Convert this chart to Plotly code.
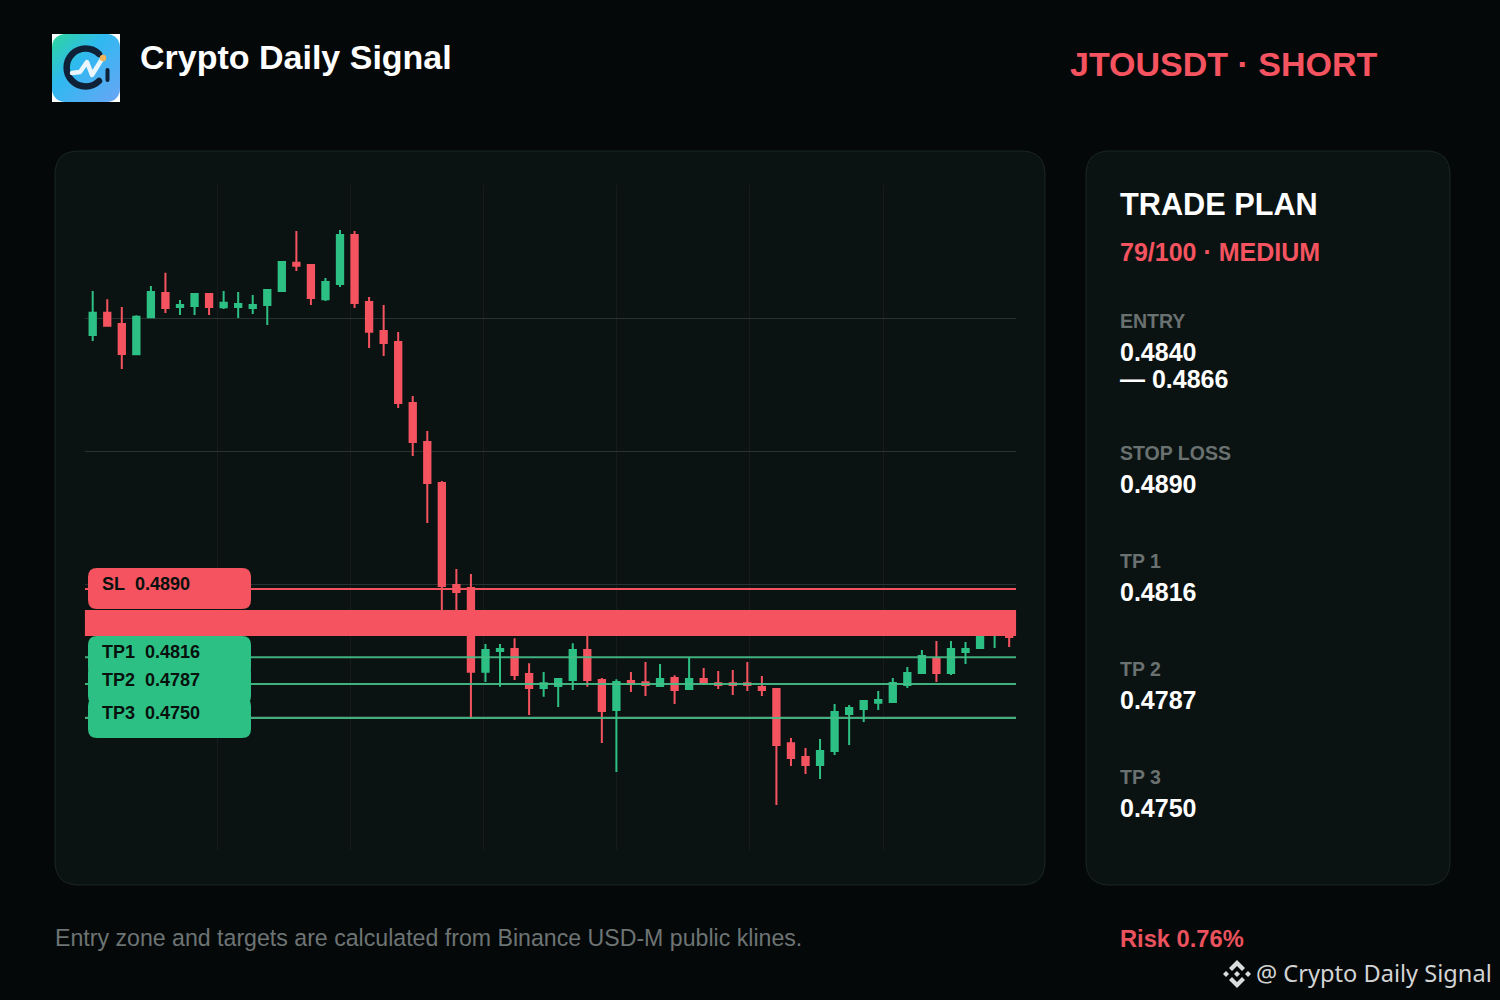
import base64
import plotly.graph_objects as go

W = 1500
H = 1000

# candles (oldest first)
opens = [0.51657, 0.51899, 0.51776, 0.51447, 0.51849, 0.52112, 0.51961, 0.51971, 0.52102, 0.51957,
         0.51961, 0.51950, 0.51982, 0.52134, 0.52441, 0.52416, 0.52044, 0.52210, 0.52742, 0.52015,
         0.51700, 0.51581, 0.50919, 0.50495, 0.50050, 0.48943, 0.48911, 0.48002, 0.48227, 0.48249,
         0.47977, 0.47826, 0.47847, 0.47912, 0.48238, 0.47912, 0.47587, 0.47902, 0.47887, 0.47847,
         0.47934, 0.47815, 0.47923, 0.47877, 0.47877, 0.47877, 0.47836, 0.47815, 0.47225, 0.47077,
         0.46990, 0.47142, 0.47543, 0.47598, 0.47666, 0.47674, 0.47858, 0.47988, 0.48151, 0.47988,
         0.48216, 0.48260, 0.48422, 0.48564]
highs = [0.52134, 0.52044, 0.51961, 0.51870, 0.52188, 0.52333, 0.52037, 0.52112, 0.52102, 0.52134,
         0.52123, 0.52091, 0.52156, 0.52449, 0.52785, 0.52416, 0.52275, 0.52796, 0.52785, 0.52069,
         0.51982, 0.51689, 0.50995, 0.50615, 0.50072, 0.49117, 0.49063, 0.48303, 0.48303, 0.48365,
         0.48094, 0.47999, 0.47934, 0.48311, 0.48412, 0.47934, 0.47920, 0.47999, 0.48108, 0.48086,
         0.47963, 0.48159, 0.48043, 0.48010, 0.48021, 0.48108, 0.47956, 0.47826, 0.47283, 0.47174,
         0.47272, 0.47652, 0.47641, 0.47684, 0.47793, 0.47934, 0.48053, 0.48238, 0.48336, 0.48336,
         0.48325, 0.48564, 0.48618, 0.48650]
lows = [0.51592, 0.51754, 0.51288, 0.51440, 0.51841, 0.51895, 0.51874, 0.51874, 0.51874, 0.51939,
        0.51841, 0.51885, 0.51765, 0.52134, 0.52351, 0.51982, 0.52026, 0.52178, 0.51950, 0.51516,
        0.51429, 0.50864, 0.50343, 0.49616, 0.48650, 0.48650, 0.47489, 0.47891, 0.47840, 0.47912,
        0.47533, 0.47731, 0.47619, 0.47804, 0.47840, 0.47229, 0.46914, 0.47782, 0.47739, 0.47840,
        0.47652, 0.47815, 0.47858, 0.47815, 0.47750, 0.47793, 0.47739, 0.46556, 0.46979, 0.46892,
        0.46838, 0.47098, 0.47207, 0.47457, 0.47587, 0.47674, 0.47826, 0.47988, 0.47891, 0.47967,
        0.48086, 0.48260, 0.48260, 0.48271]
closes = [0.51899, 0.51758, 0.51450, 0.51855, 0.52123, 0.51950, 0.51982, 0.52102, 0.51961, 0.52007,
          0.51993, 0.51982, 0.52145, 0.52449, 0.52409, 0.52058, 0.52232, 0.52742, 0.52004, 0.51693,
          0.51570, 0.50919, 0.50495, 0.50050, 0.48933, 0.48867, 0.48002, 0.48238, 0.48249, 0.47967,
          0.47826, 0.47877, 0.47923, 0.48238, 0.47912, 0.47576, 0.47891, 0.47869, 0.47858, 0.47923,
          0.47804, 0.47923, 0.47880, 0.47858, 0.47858, 0.47858, 0.47804, 0.47207, 0.47066, 0.46990,
          0.47142, 0.47565, 0.47608, 0.47684, 0.47695, 0.47880, 0.47988, 0.48173, 0.47988, 0.48249,
          0.48249, 0.48477, 0.48509, 0.48379]
candle_index = list(range(len(opens)))

# trade levels
entry_low = 0.4840
entry_high = 0.4866
stop_loss = 0.4890
take_profits = [0.4816, 0.4787, 0.4750]

# grid positions
grid_prices = [0.51841, 0.50390, 0.48954, 0.47511]
grid_candles = [8.56, 17.69, 26.85, 36.02, 45.14, 54.33]

# right hand panel
plan_labels = ["ENTRY", "STOP LOSS", "TP 1", "TP 2", "TP 3"]
plan_values = ["0.4840", "0.4890", "0.4816", "0.4787", "0.4750"]
plan_label_y = [321, 452.5, 561, 669, 777]
plan_value_y = [352, 484, 592, 700, 808]

# colours
BG = "#050809"
PANEL = "#0b1312"
BORDER = "#1b2625"
RED = "#f4535f"
GREEN = "#2dc084"
GREY = "#6a7171"
DARK = "#07110d"
FONT = "Liberation Sans"


def px(x):
    return x / W


def py(y):
    return 1 - y / H


def rounded_rect(x0, y0, x1, y1, r):
    # path in paper coordinates, pixel numbers going in
    return (
        f"M {px(x0 + r)} {py(y0)} L {px(x1 - r)} {py(y0)} Q {px(x1)} {py(y0)} {px(x1)} {py(y0 + r)} "
        f"L {px(x1)} {py(y1 - r)} Q {px(x1)} {py(y1)} {px(x1 - r)} {py(y1)} "
        f"L {px(x0 + r)} {py(y1)} Q {px(x0)} {py(y1)} {px(x0)} {py(y1 - r)} "
        f"L {px(x0)} {py(y0 + r)} Q {px(x0)} {py(y0)} {px(x0 + r)} {py(y0)} Z"
    )


def svg_uri(svg):
    return "data:image/svg+xml;base64," + base64.b64encode(svg.encode()).decode()


fig = go.Figure(
    go.Candlestick(
        x=candle_index,
        open=opens,
        high=highs,
        low=lows,
        close=closes,
        increasing=dict(line=dict(color=GREEN, width=2), fillcolor=GREEN),
        decreasing=dict(line=dict(color=RED, width=2), fillcolor=RED),
        whiskerwidth=0,
        showlegend=False,
    )
)

fig.update_layout(
    width=W,
    height=H,
    margin=dict(l=0, r=0, t=0, b=0),
    paper_bgcolor=BG,
    plot_bgcolor="rgba(0,0,0,0)",
    boxgap=0.38,
    showlegend=False,
    font=dict(family=FONT),
)
fig.update_xaxes(
    domain=[px(85), px(1016)],
    range=[-0.53, 63.47],
    rangeslider=dict(visible=False),
    tickvals=grid_candles,
    showticklabels=False,
    ticks="",
    gridcolor="#161c1d",
    gridwidth=1,
    zeroline=False,
)
fig.update_yaxes(
    domain=[py(850), py(185)],
    range=[0.46067, 0.53285],
    tickvals=grid_prices,
    showticklabels=False,
    ticks="",
    gridcolor="#2a3131",
    gridwidth=1,
    zeroline=False,
)

# the two cards behind the chart
for box in [(55, 151, 1045, 885), (1086, 151, 1450, 885)]:
    fig.add_shape(
        type="path",
        path=rounded_rect(*box, 24),
        xref="paper",
        yref="paper",
        fillcolor=PANEL,
        line=dict(color=BORDER, width=1),
        layer="below",
    )

# levels go over the candles
fig.add_hrect(y0=entry_low, y1=entry_high, x0=0.001, x1=0.999, fillcolor=RED, opacity=1,
              line=dict(color=RED, width=2), layer="above")
fig.add_hline(y=stop_loss, line=dict(color=RED, width=2), layer="above")
for tp in take_profits:
    fig.add_hline(y=tp, line=dict(color="rgba(68,190,136,0.92)", width=2), layer="above")

# label boxes
boxes = [
    (88, 568, 251, 609, RED),
    (88, 636, 251, 677, GREEN),
    (88, 664, 251, 705, GREEN),
    (88, 697, 251, 738, GREEN),
]
for x0, y0, x1, y1, color in boxes:
    fig.add_shape(
        type="path",
        path=rounded_rect(x0, y0, x1, y1, 9),
        xref="paper",
        yref="paper",
        fillcolor=color,
        line=dict(width=0),
        layer="above",
    )


def text(x, y, s, size, color, family=FONT, bold=True):
    label = f"<b>{s}</b>" if bold else s
    fig.add_annotation(
        x=px(x),
        y=py(y),
        xref="paper",
        yref="paper",
        xanchor="left",
        yanchor="middle",
        text=label,
        showarrow=False,
        borderpad=0,
        borderwidth=0,
        font=dict(family=family, size=size, color=color),
    )


text(102, 584, "SL\u00a0\u00a00.4890", 18, DARK)
text(102, 652, "TP1\u00a0\u00a00.4816", 18, DARK)
text(102, 680, "TP2\u00a0\u00a00.4787", 18, DARK)
text(102, 713, "TP3\u00a0\u00a00.4750", 18, DARK)

text(140, 57.5, "Crypto Daily Signal", 34, "#ffffff")
text(1070, 63.5, "JTOUSDT · SHORT", 34, RED)

text(1120, 204.5, "TRADE PLAN", 30.7, "#ffffff")
text(1120, 252, "79/100 · MEDIUM", 25, RED)
for label, value, ly, vy in zip(plan_labels, plan_values, plan_label_y, plan_value_y):
    text(1120, ly, label, 19.5, GREY)
    text(1120, vy, value, 25, "#ffffff")
text(1120, 379, "— 0.4866", 25, "#ffffff")

text(55, 938, "Entry zone and targets are calculated from Binance USD-M public klines.", 23.15, "#6d7474", bold=False)
text(1120, 939, "Risk 0.76%", 23.7, "#ea525d")
text(1256, 973, "@ Crypto Daily Signal", 23.6, "#d2d4d4", family="Noto Sans", bold=False)

# logo and watermark icon
logo_svg = """<svg xmlns="http://www.w3.org/2000/svg" width="68" height="68" viewBox="0 0 68 68">
<defs><linearGradient id="g" x1="0" y1="0" x2="1" y2="1">
<stop offset="0" stop-color="#2dd79a"/><stop offset="0.4" stop-color="#2fb9f0"/><stop offset="1" stop-color="#6aa5f5"/>
</linearGradient></defs>
<rect width="68" height="68" fill="#ffffff"/>
<rect width="68" height="68" rx="13" fill="url(#g)"/>
<path d="M47 20 A19 19 0 1 0 47 47" fill="none" stroke="#0f2136" stroke-width="6.5" stroke-linecap="round"/>
<path d="M20 39 L28 38 L35 28 L40 41 L50 25" fill="none" stroke="#eaf6fb" stroke-width="4.5" stroke-linejoin="round" stroke-linecap="round"/>
<circle cx="51" cy="24" r="3.2" fill="#f3b35a"/>
<rect x="53.5" y="34" width="4" height="14" rx="2" fill="#0f2136"/>
</svg>"""
binance_svg = """<svg xmlns="http://www.w3.org/2000/svg" width="28" height="28" viewBox="0 0 28 28">
<g fill="#dcdede">
<path d="M14 11 L17 14 L14 17 L11 14 Z"/>
<path d="M3 11 L6 14 L3 17 L0 14 Z"/>
<path d="M25 11 L28 14 L25 17 L22 14 Z"/>
<path d="M14 0 L22 8 L19 11 L14 6 L9 11 L6 8 Z"/>
<path d="M14 28 L22 20 L19 17 L14 22 L9 17 L6 20 Z"/>
</g></svg>"""

fig.add_layout_image(
    source=svg_uri(logo_svg), xref="paper", yref="paper", x=px(52), y=py(34),
    sizex=px(68), sizey=68 / H, xanchor="left", yanchor="top", sizing="stretch", layer="above",
)
fig.add_layout_image(
    source=svg_uri(binance_svg), xref="paper", yref="paper", x=px(1223), y=py(960),
    sizex=px(28), sizey=28 / H, xanchor="left", yanchor="top", sizing="stretch", layer="above",
)

# page has a default body margin, take it off so the figure fills the window
fig.write_html("out.html", config={"displayModeBar": False}, post_script="document.body.style.margin='0';")
